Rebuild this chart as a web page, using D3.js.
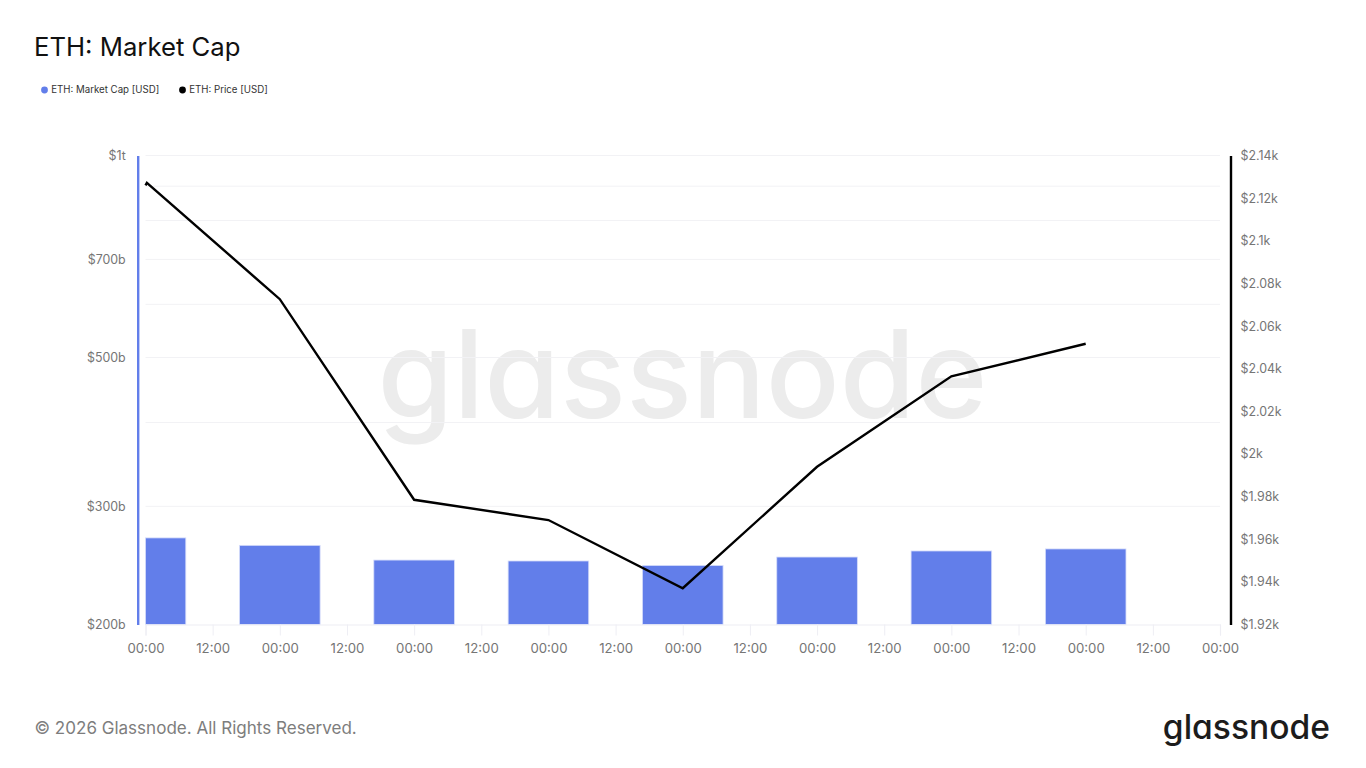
<!DOCTYPE html>
<html>
<head>
<meta charset="utf-8">
<script src="https://cdn.jsdelivr.net/npm/d3@7"></script>
<style>
  html, body { margin: 0; padding: 0; background: #fff; }
  svg { display: block; font-family: Inter, sans-serif; }
  .logo { font-feature-settings: "cv11" 1; }
</style>
</head>
<body>
<svg id="chart" width="1366" height="768"></svg>
<script>
// hours since the first midnight on the x axis
var barHours   = [0, 24, 48, 72, 96, 120, 144, 168];
var marketCap  = [269.2e9, 262.4e9, 249.5e9, 248.7e9, 244.9e9, 252.1e9, 257.4e9, 259.2e9];
// the price line has a tiny extra step right at its start
var priceHours = [0, 0.25, 24, 48, 72, 96, 120, 144, 168];
var price      = [2126, 2127.2, 2072.6, 1978.5, 1969, 1937, 1994, 2036.4, 2051.7];

var xTickHours  = [0, 12, 24, 36, 48, 60, 72, 84, 96, 108, 120, 132, 144, 156, 168, 180, 192];
var xTickLabels = ["00:00", "12:00", "00:00", "12:00", "00:00", "12:00", "00:00", "12:00", "00:00", "12:00", "00:00", "12:00", "00:00", "12:00", "00:00", "12:00", "00:00"];
var capGrid     = [200e9, 300e9, 400e9, 500e9, 600e9, 700e9, 800e9, 900e9, 1e12];
var capTicks    = [200e9, 300e9, 500e9, 700e9, 1e12];
var capLabels   = ["$200b", "$300b", "$500b", "$700b", "$1t"];
var priceTicks  = [1920, 1940, 1960, 1980, 2000, 2020, 2040, 2060, 2080, 2100, 2120, 2140];
var priceLabels = ["$1.92k", "$1.94k", "$1.96k", "$1.98k", "$2k", "$2.02k", "$2.04k", "$2.06k", "$2.08k", "$2.1k", "$2.12k", "$2.14k"];

var BLUE = "#627EEA";
var svg = d3.select("#chart");

var plot = {left: 145.5, right: 1220, top: 155.5, bottom: 624.5};

var x = d3.scaleLinear().domain([0, 192]).range([plot.left, plot.right]);
var yCap = d3.scaleLog().domain([200e9, 1e12]).range([plot.bottom, plot.top]);
var yPrice = d3.scaleLinear().domain([1920, 2140]).range([plot.bottom, plot.top]);

// title and legend
svg.append("text").attr("x", 34).attr("y", 55.5)
  .attr("font-size", 25.7).attr("fill", "#111").text("ETH: Market Cap");

var legendItems = [
  {label: "ETH: Market Cap [USD]", color: BLUE, cx: 44.5},
  {label: "ETH: Price [USD]", color: "#000", cx: 182.5}
];
legendItems.forEach(function (d) {
  svg.append("circle").attr("cx", d.cx).attr("cy", 90).attr("r", 3.4).attr("fill", d.color);
  svg.append("text").attr("x", d.cx + 6.7).attr("y", 92.8)
    .attr("font-size", 9.7).attr("fill", "#333").text(d.label);
});

// watermark goes under the grid
svg.append("text").attr("class", "logo")
  .attr("x", 682.5).attr("y", 418).attr("text-anchor", "middle")
  .attr("font-size", 122.5).attr("font-weight", 500).attr("fill", "#ececec")
  .text("glassnode");

// grid
svg.append("g").selectAll("line").data(capGrid.slice(1)).join("line")
  .attr("x1", plot.left).attr("x2", plot.right)
  .attr("y1", d => yCap(d)).attr("y2", d => yCap(d))
  .attr("stroke", "#f2f2f5").attr("stroke-width", 1);

// bars, first one is cut off at the plot edge
var barWidth = x(14.4) - x(0);
svg.append("g").selectAll("rect").data(barHours).join("rect")
  .attr("x", d => Math.max(x(d) - barWidth / 2, plot.left))
  .attr("width", d => x(d) + barWidth / 2 - Math.max(x(d) - barWidth / 2, plot.left))
  .attr("y", (d, i) => yCap(marketCap[i]))
  .attr("height", (d, i) => plot.bottom - yCap(marketCap[i]))
  .attr("fill", BLUE).attr("stroke", "#d5dcfa").attr("stroke-width", 0.8);

// x axis
var xAxis = d3.axisBottom(x).tickValues(xTickHours)
  .tickFormat((d, i) => xTickLabels[i]).tickSize(11).tickPadding(8);
var gx = svg.append("g").attr("transform", "translate(0," + plot.bottom + ")").call(xAxis);
gx.select(".domain").attr("stroke", "#eeeef4").attr("stroke-width", 1.2);
gx.selectAll(".tick line").attr("stroke", "#eeeef4");
gx.selectAll("text").attr("font-size", 13.2).attr("font-family", "Inter, sans-serif").attr("fill", "#757575");

// left axis
var capAxis = d3.axisLeft(yCap).tickValues(capTicks)
  .tickFormat((d, i) => capLabels[i]).tickSize(0).tickPadding(12);
var gl = svg.append("g").attr("transform", "translate(137.7,0)").call(capAxis);
gl.select(".domain").attr("stroke", BLUE).attr("stroke-width", 2.4);
gl.selectAll("text").attr("font-size", 12.4).attr("font-family", "Inter, sans-serif").attr("fill", "#757575");

// right axis
var priceAxis = d3.axisRight(yPrice).tickValues(priceTicks)
  .tickFormat((d, i) => priceLabels[i]).tickSize(0).tickPadding(10);
var gr = svg.append("g").attr("transform", "translate(1230.5,0)").call(priceAxis);
gr.select(".domain").attr("stroke", "#000").attr("stroke-width", 2.4);
gr.selectAll("text").attr("font-size", 12.4).attr("font-family", "Inter, sans-serif").attr("fill", "#757575");

// price line
var line = d3.line().x(d => x(d[0])).y(d => yPrice(d[1]));
svg.append("path").datum(priceHours.map((h, i) => [h, price[i]]))
  .attr("d", line).attr("fill", "none").attr("stroke", "#000")
  .attr("stroke-width", 2.4).attr("stroke-linejoin", "miter");

// footer
svg.append("text").attr("x", 34.5).attr("y", 733.5)
  .attr("font-size", 17.05).attr("fill", "#7d7d7d").text("© 2026 Glassnode. All Rights Reserved.");
svg.append("text").attr("class", "logo")
  .attr("x", 1330).attr("y", 738.5).attr("text-anchor", "end")
  .attr("font-size", 33.6).attr("font-weight", 450).attr("fill", "#1c1c1c")
  .text("glassnode");
</script>
</body>
</html>
